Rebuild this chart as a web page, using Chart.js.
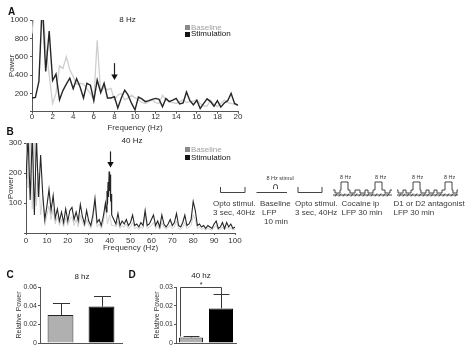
<!DOCTYPE html>
<html><head><meta charset="utf-8">
<script src="https://cdn.jsdelivr.net/npm/chart.js@4.4.0/dist/chart.umd.min.js"></script>
<style>
html,body{margin:0;padding:0;background:#fff;}
#wrap{position:relative;width:474px;height:356px;overflow:hidden;font-family:"Liberation Sans",Arial,sans-serif;color:#222;background:#fff;}
canvas{position:absolute;}
.t{position:absolute;white-space:nowrap;line-height:1;transform:translateY(-50%);font-size:8px;}
.c{position:absolute;white-space:nowrap;line-height:1;transform:translate(-50%,-50%);font-size:8px;}
.L{position:absolute;white-space:nowrap;line-height:1;transform:translate(-50%,-50%);font-size:10px;font-weight:bold;color:#111;}
.box{position:absolute;width:5px;height:5px;}
svg{position:absolute;left:0;top:0;}
</style></head><body>
<div id="wrap">
<canvas id="cA" width="250" height="133" style="left:0;top:0;width:250px;height:133px"></canvas>
<canvas id="cB" width="250" height="118" style="left:0;top:135px;width:250px;height:118px"></canvas>
<canvas id="cC" width="130" height="94" style="left:0;top:262px;width:130px;height:94px"></canvas>
<canvas id="cD" width="120" height="94" style="left:130px;top:262px;width:120px;height:94px"></canvas>

<div class="L" style="left:11.5px;top:12px">A</div>
<div class="L" style="left:10px;top:132px">B</div>
<div class="L" style="left:10px;top:275px">C</div>
<div class="L" style="left:132px;top:275px">D</div>

<div class="c" style="left:127.5px;top:20px">8 Hz</div>
<div class="c" style="left:132px;top:141px">40 Hz</div>
<div class="c" style="left:82px;top:277px">8 hz</div>
<div class="c" style="left:201px;top:276px">40 hz</div>

<div class="box" style="left:185px;top:25px;background:#8a8a8a"></div>
<div class="t" style="left:191px;top:27.5px;color:#a0a0a0">Baseline</div>
<div class="box" style="left:185px;top:31.5px;background:#151515"></div>
<div class="t" style="left:191px;top:34px;color:#111">Stimulation</div>

<div class="box" style="left:185px;top:147px;background:#8a8a8a"></div>
<div class="t" style="left:191px;top:149.5px;color:#a0a0a0">Baseline</div>
<div class="box" style="left:185px;top:155px;background:#151515"></div>
<div class="t" style="left:191px;top:157.5px;color:#111">Stimulation</div>

<svg width="474" height="356" viewBox="0 0 474 356" font-family="Liberation Sans, Arial, sans-serif" fill="#3a3a3a">
 <g stroke="#444" stroke-width="1" fill="none">
  <path d="M220.5 187 V192.5 H245 V187"/>
  <path d="M256.5 192.5 H287"/>
  <path d="M273.5 189 V186.5 A2 2 0 0 1 277.5 186.5 V189"/>
  <path d="M298 187 V192.5 H322 V187"/>
  <path d="M333 190 H335 V193 H340 V190 H341 V182 H348 V190 H350 V193 H355 V190 H360 V193 H365 V190 H368 V193 H373 V190 H375 V182 H382 V190 H385 V193 H390 V190 H392"/>
  <path d="M333 195 H392"/>
  <path d="M335 196.5 L337 193.5 M339 196.5 L341 193.5 M343 196.5 L345 193.5 M347 196.5 L349 193.5 M351 196.5 L353 193.5 M355 196.5 L357 193.5 M359 196.5 L361 193.5 M363 196.5 L365 193.5 M367 196.5 L369 193.5 M371 196.5 L373 193.5 M375 196.5 L377 193.5 M379 196.5 L381 193.5 M383 196.5 L385 193.5 M387 196.5 L389 193.5"/>
  <path d="M397 190 H398 V193 H403 V190 H406 V193 H411 V190 H413 V182 H420 V190 H421 V193 H426 V190 H429 V193 H434 V190 H437 V193 H442 V190 H445 V182 H452 V190 H453 V193 H457 V190 H458"/>
  <path d="M397 195 H458"/>
  <path d="M399 196.5 L401 193.5 M403 196.5 L405 193.5 M407 196.5 L409 193.5 M411 196.5 L413 193.5 M415 196.5 L417 193.5 M419 196.5 L421 193.5 M423 196.5 L425 193.5 M427 196.5 L429 193.5 M431 196.5 L433 193.5 M435 196.5 L437 193.5 M439 196.5 L441 193.5 M443 196.5 L445 193.5 M447 196.5 L449 193.5 M451 196.5 L453 193.5 M455 196.5 L457 193.5"/>
 </g>
 <g font-size="8">
  <text x="213" y="205.5">Opto stimul.</text>
  <text x="213" y="214.5">3 sec, 40Hz</text>
  <text x="260" y="205.5">Baseline</text>
  <text x="262" y="214.5">LFP</text>
  <text x="264" y="223.5">10 min</text>
  <text x="295" y="205.5">Opto stimul.</text>
  <text x="295" y="214.5">3 sec, 40Hz</text>
  <text x="341.5" y="205.5">Cocaine ip</text>
  <text x="341.5" y="214.5">LFP 30 min</text>
  <text x="393.5" y="205.5">D1 or D2 antagonist</text>
  <text x="393.5" y="214.5">LFP 30 min</text>
 </g>
 <g font-size="5.5">
  <text x="266.5" y="180.3">8 Hz stimul</text>
  <text x="340" y="179">8 Hz</text>
  <text x="375" y="179">8 Hz</text>
  <text x="412" y="179">8 Hz</text>
  <text x="444" y="179">8 Hz</text>
 </g>
</svg>
</div>
<script>
// ---------- Panel A : 8 Hz power spectrum ----------
const freqA = [0,0.33,0.67,1,1.33,1.67,2,2.33,2.67,3,3.33,3.67,4,4.33,4.67,5,5.33,5.67,6,6.33,6.67,7,7.33,7.67,8,8.33,8.67,9,9.33,9.67,10,10.33,10.67,11,11.33,11.67,12,12.33,12.67,13,13.33,13.67,14,14.33,14.67,15,15.33,15.67,16,16.33,16.67,17,17.33,17.67,18,18.33,18.67,19,19.33,19.67,20];
const stimA = [150,155,330,1200,440,880,340,410,130,230,300,365,250,360,270,150,310,290,120,345,210,310,150,150,165,40,150,235,180,90,20,160,140,110,120,135,145,135,55,145,110,125,145,85,95,215,120,75,125,35,90,140,110,60,120,50,95,120,200,90,70];
const baseA = [850,1200,1200,1200,700,400,90,200,500,470,600,460,380,300,310,300,250,200,130,780,200,270,240,255,130,180,200,130,150,180,150,130,100,90,110,127,100,90,180,130,110,100,90,110,127,100,110,115,127,90,62,62,127,80,55,90,127,100,90,80,73];
const arrowA = {x: 8, from: 530, to: 345};

// ---------- Panel B : 40 Hz power spectrum ----------
const freqB = [0,1,2,3,4,5,6,7,8,9,10,11,12,13,14,15,16,17,18,19,20,21,22,23,24,25,26,27,28,29,30,31,32,33,34,35,36,37,38,
  38.5,38.75,39,39.25,39.5,39.75,40,40.25,40.5,40.75,41,
  42,43,44,45,46,47,48,49,50,51,52,53,54,55,56,57,58,59,60,61,62,63,64,65,66,67,68,69,70,71,72,73,74,75,76,77,78,79,80,81,82,83,84,85,86,87,88,89,90,91,92,93,94,95,96,97,98,99,100];
const stimB = [180,320,110,330,60,320,120,260,130,45,90,145,75,125,50,80,40,70,35,80,40,75,85,45,70,40,95,55,30,75,40,25,60,115,35,45,25,55,100,
  70,140,95,170,120,205,140,195,105,130,60,
  45,30,65,25,40,30,45,25,35,60,25,30,20,35,25,75,25,30,45,60,25,40,20,60,30,20,30,45,25,35,65,25,20,35,60,25,30,45,105,75,25,30,20,25,15,25,20,15,30,40,15,20,35,15,35,20,30,15,20];
const freqBase = [0,1,2,3,4,5,6,7,8,9,10,11,12,13,14,15,16,17,18,19,20,21,22,23,24,25,26,27,28,29,30,31,32,33,34,35,36,37,38,39,40,41,42,43,44,45,46,47,48,49,50,51,52,53,54,55,56,57,58,59,60,61,62,63,64,65,66,67,68,69,70,71,72,73,74,75,76,77,78,79,80,81,82,83,84,85,86,87,88,89,90,91,92,93,94,95,96,97,98,99,100];
const baseB = [300,150,340,80,310,90,200,60,120,
  25,60,90,45,80,30,55,25,45,20,50,25,45,55,25,45,20,60,35,20,45,25,15,40,105,20,30,15,35,90,
  30,60,25,
  25,20,40,15,25,20,30,15,20,35,15,20,12,20,15,65,15,20,25,35,15,25,12,35,20,12,20,25,15,20,40,15,12,20,35,15,20,25,60,45,15,20,12,15,10,15,12,10,20,25,10,12,20,10,20,12,18,10,12];
const arrowB = {x: 40, from: 272, to: 218};

// ---------- Panels C, D : relative power ----------
const groups = ['Baseline', 'Stimulation'];
const meanC = [0.030, 0.039];
const errC  = [0.013, 0.011];
const meanD = [0.003, 0.0185];
const errD  = [0.001, 0.0075];
const ticksC = [0, 0.02, 0.04, 0.06];
const ticksD = [0, 0.01, 0.02, 0.03];
const sigD = {level: 0.030, label: '*'};

const FAM = '"Liberation Sans", Arial, sans-serif';
const F8 = {family: FAM, size: 8};
const F7 = {family: FAM, size: 7};

const arrowPlugin = {
  id: 'arrow',
  afterDatasetsDraw(chart, args, o) {
    if (!o || o.x === undefined) return;
    const ctx = chart.ctx, xs = chart.scales.x, ys = chart.scales.y;
    const x = Math.round(xs.getPixelForValue(o.x)) + 0.5;
    const y1 = ys.getPixelForValue(o.from), y2 = ys.getPixelForValue(o.to);
    ctx.save();
    ctx.strokeStyle = '#222'; ctx.lineWidth = 1.2;
    ctx.beginPath(); ctx.moveTo(x, y1); ctx.lineTo(x, y2 - 4); ctx.stroke();
    ctx.fillStyle = '#111';
    ctx.beginPath(); ctx.moveTo(x - 3.2, y2 - 5.5); ctx.lineTo(x + 3.2, y2 - 5.5); ctx.lineTo(x, y2); ctx.closePath(); ctx.fill();
    ctx.restore();
  }
};

function pts(xs, ys) { return xs.map((x, i) => ({x: x, y: ys[i]})); }

function lineChart(id, stimPts, basePts, xr, yr, g, arrow) {
  return new Chart(document.getElementById(id), {
    type: 'line',
    data: {datasets: [
      {label: 'Stimulation', data: stimPts, borderColor: '#262626', borderWidth: g.sw, pointRadius: 0, tension: 0, fill: false},
      {label: 'Baseline', data: basePts, borderColor: '#cfcfcf', borderWidth: g.bw, pointRadius: 0, tension: 0, fill: false}
    ]},
    options: {
      responsive: false, animation: false, devicePixelRatio: 1, events: [],
      layout: {padding: {left: g.pl, top: g.pt, right: g.pr, bottom: 0}},
      plugins: {legend: {display: false}, tooltip: {enabled: false}, arrow: arrow},
      scales: {
        x: {type: 'linear', min: xr.min, max: xr.max,
            afterFit: s => { s.height = g.xh; },
            ticks: {stepSize: xr.step, autoSkip: false, maxRotation: 0, font: F8, color: '#333', padding: g.tp},
            grid: {display: true, drawOnChartArea: false, tickLength: 2, color: '#555'},
            border: {display: true, color: '#555', width: 1},
            title: {display: true, text: 'Frequency (Hz)', font: F8, color: '#333', padding: {top: 0, bottom: 0}}},
        y: {type: 'linear', min: yr.min, max: yr.max,
            afterFit: s => { s.width = g.yw; },
            ticks: {stepSize: yr.step, font: F8, color: '#333', padding: 2, callback: v => v === 0 ? '' : v},
            grid: {display: true, drawOnChartArea: false, tickLength: 2, color: '#555'},
            border: {display: true, color: '#555', width: 1},
            title: {display: true, text: 'Power', font: F8, color: '#333', padding: 0}}
      }
    },
    plugins: [arrowPlugin]
  });
}

lineChart('cA', pts(freqA, stimA), pts(freqA, baseA), {min: 0, max: 20, step: 2}, {min: 0, max: 1000, step: 200},
  {pl: 7, yw: 25, pt: 20, pr: 12, xh: 21.3, sw: 1.4, bw: 1.3, tp: -2}, arrowA);
lineChart('cB', pts(freqB, stimB), pts(freqBase, baseB), {min: 0, max: 100, step: 10}, {min: 0, max: 300, step: 100},
  {pl: 6, yw: 20, pt: 8, pr: 15, xh: 20, sw: 1.1, bw: 1, tp: 1}, arrowB);

const errPlugin = {
  id: 'errbars',
  afterDatasetsDraw(chart, args, o) {
    const meta = chart.getDatasetMeta(0), ys = chart.scales.y, ctx = chart.ctx;
    const vals = chart.data.datasets[0].data;
    ctx.save(); ctx.strokeStyle = '#333'; ctx.lineWidth = 1;
    const tops = [];
    meta.data.forEach((bar, i) => {
      const x = Math.round(bar.x) + 0.5;
      const yb = ys.getPixelForValue(vals[i]);
      const yt = Math.round(ys.getPixelForValue(vals[i] + o.err[i])) + 0.5;
      const hw = bar.width * 0.33;
      tops.push(yt);
      ctx.beginPath(); ctx.moveTo(x, yb); ctx.lineTo(x, yt); ctx.moveTo(x - hw, yt); ctx.lineTo(x + hw, yt); ctx.stroke();
    });
    if (o.sig) {
      const b0 = meta.data[0], b1 = meta.data[1];
      const xl = Math.round(b0.x - b0.width * 0.45) + 0.5, xr = Math.round(b1.x) + 0.5;
      const yl = Math.round(ys.getPixelForValue(o.sig.level)) + 0.5;
      ctx.strokeStyle = '#444';
      ctx.beginPath(); ctx.moveTo(xl, tops[0]); ctx.lineTo(xl, yl); ctx.lineTo(xr, yl); ctx.lineTo(xr, tops[1]); ctx.stroke();
      ctx.fillStyle = '#222'; ctx.font = '7px ' + FAM; ctx.textAlign = 'center'; ctx.textBaseline = 'bottom';
      ctx.fillText(o.sig.label, (xl + xr) / 2, yl + 1);
    }
    ctx.restore();
  }
};

function barChart(id, means, errs, ticks, g, sig) {
  return new Chart(document.getElementById(id), {
    type: 'bar',
    data: {labels: groups, datasets: [{data: means, backgroundColor: ['#b0b0b0', '#000000'], borderColor: ['#222', '#000'], borderWidth: 1,
      barPercentage: 1, categoryPercentage: g.cp}]},
    options: {
      responsive: false, animation: false, devicePixelRatio: 1, events: [],
      layout: {padding: {left: g.pl, top: g.pt, right: g.pr, bottom: 0}},
      plugins: {legend: {display: false}, tooltip: {enabled: false}, errbars: {err: errs, sig: sig}},
      scales: {
        x: {type: 'category', afterFit: s => { s.height = g.xh; },
            ticks: {display: false}, grid: {display: false}, border: {display: true, color: '#555', width: 1}},
        y: {type: 'linear', min: ticks[0], max: ticks[ticks.length - 1],
            afterFit: s => { s.width = g.yw; },
            afterBuildTicks: s => { s.ticks = ticks.map(v => ({value: v})); },
            ticks: {font: F7, color: '#333', padding: 1, callback: v => v === 0 ? '0' : (+v).toFixed(2)},
            grid: {display: true, drawOnChartArea: false, tickLength: 2, color: '#555'},
            border: {display: true, color: '#555', width: 1},
            title: {display: true, text: 'Relative Power', font: F7, color: '#333', padding: 0}}
      }
    },
    plugins: [errPlugin]
  });
}

barChart('cC', meanC, errC, ticksC, {pl: 15.3, yw: 24.7, pt: 25, pr: 8, xh: 13, cp: 0.63}, null);
barChart('cD', meanD, errD, ticksD, {pl: 23.3, yw: 22.7, pt: 25, pr: 14, xh: 13, cp: 0.8}, sigD);
</script>
</body></html>
